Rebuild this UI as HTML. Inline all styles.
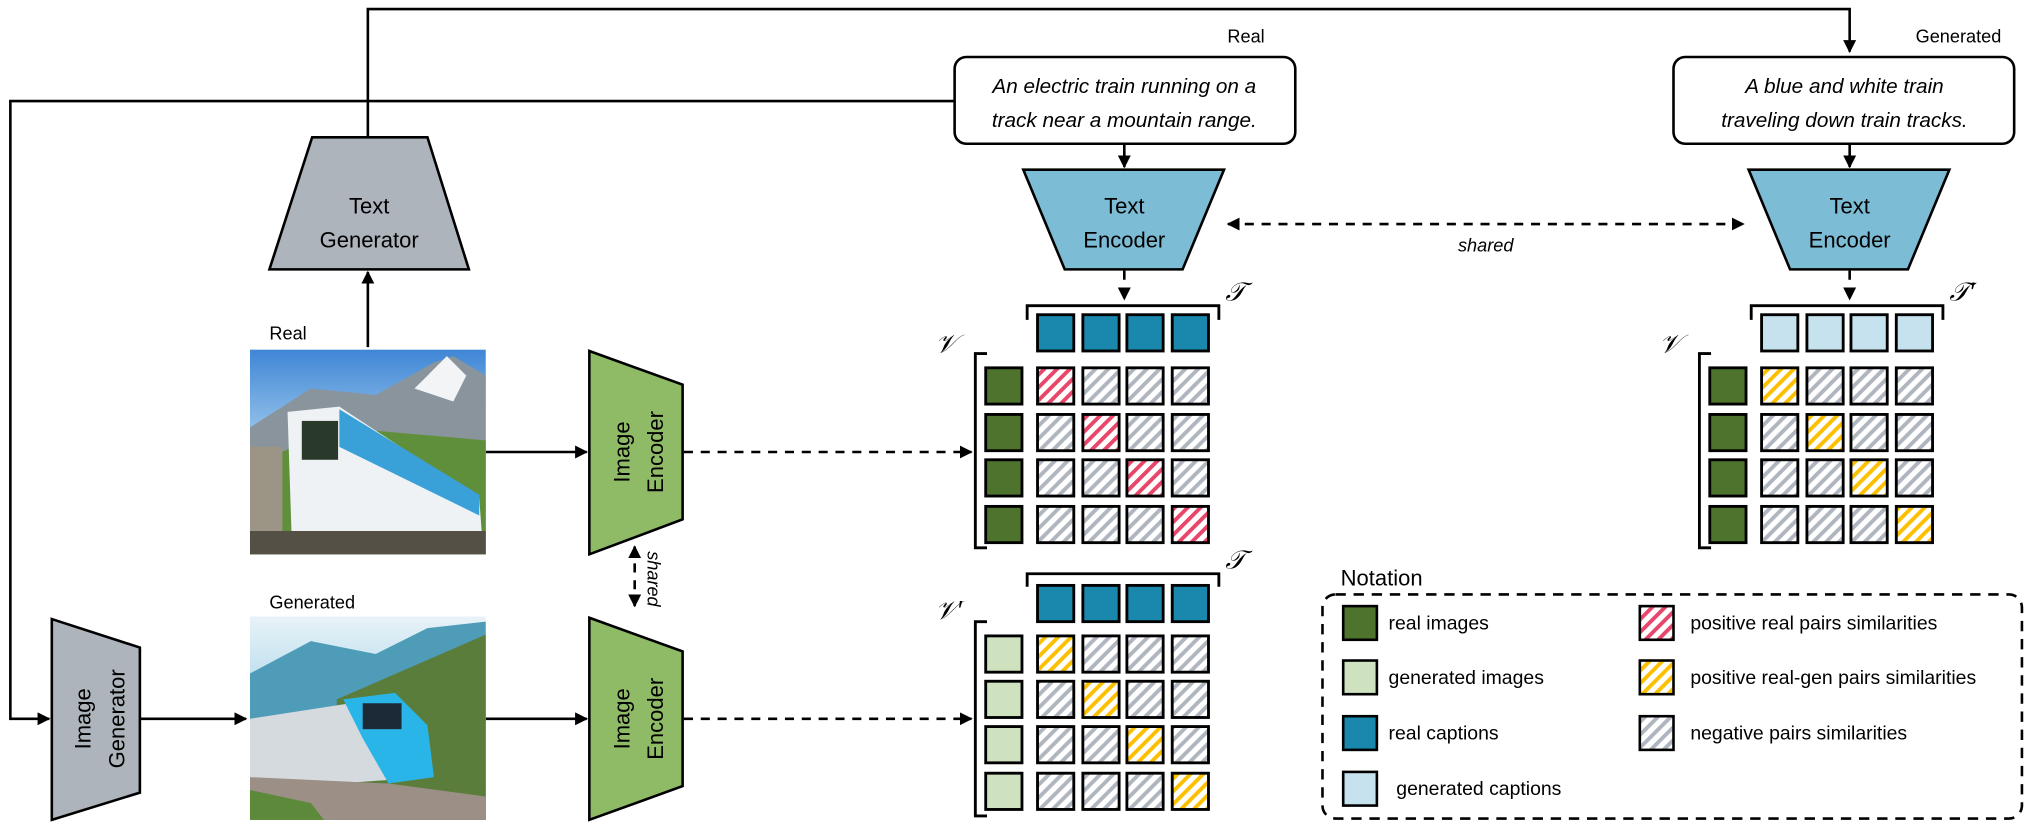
<!DOCTYPE html>
<html><head><meta charset="utf-8"><style>
html,body{margin:0;padding:0;background:#fff;}
svg{display:block;}
text{font-family:"Liberation Sans",sans-serif;}
</style></head><body>
<svg width="2031" height="825" viewBox="0 0 1568 637" preserveAspectRatio="none" xmlns="http://www.w3.org/2000/svg">
<defs>
<marker id="ah" markerWidth="10" markerHeight="10" refX="9" refY="5" orient="auto" markerUnits="userSpaceOnUse"><path d="M0,0 L10,5 L0,10 z" fill="#000"/></marker>
<marker id="ahs" markerWidth="10" markerHeight="10" refX="1" refY="5" orient="auto" markerUnits="userSpaceOnUse"><path d="M10,0 L0,5 L10,10 z" fill="#000"/></marker>
<pattern id="hg" width="7" height="7" patternUnits="userSpaceOnUse" patternTransform="rotate(45)"><rect width="7" height="7" fill="#fff"/><rect width="3" height="7" fill="#b0b6bf"/></pattern>
<pattern id="hr" width="7" height="7" patternUnits="userSpaceOnUse" patternTransform="rotate(45)"><rect width="7" height="7" fill="#fff"/><rect width="3" height="7" fill="#e8466a"/></pattern>
<pattern id="hy" width="7" height="7" patternUnits="userSpaceOnUse" patternTransform="rotate(45)"><rect width="7" height="7" fill="#fff"/><rect width="3" height="7" fill="#fcc000"/></pattern>
<linearGradient id="sky1" x1="0" y1="0" x2="0" y2="1"><stop offset="0" stop-color="#3f86d6"/><stop offset="0.5" stop-color="#a9d0ef"/><stop offset="1" stop-color="#cfe3f2"/></linearGradient>
<linearGradient id="sky2" x1="0" y1="0" x2="0" y2="1"><stop offset="0" stop-color="#e8f3f8"/><stop offset="1" stop-color="#5fb2d8"/></linearGradient>
</defs>

<g fill="none" stroke="#000" stroke-width="2">
<path d="M284,106 V7 H1428 V40" marker-end="url(#ah)"/>
<path d="M737,78 H8 V555 H38" marker-end="url(#ah)"/>
<path d="M284,268 V210" marker-end="url(#ah)"/>
<path d="M108,555 H190" marker-end="url(#ah)"/>
<path d="M375,349 H453" marker-end="url(#ah)"/>
<path d="M375,555 H453" marker-end="url(#ah)"/>
<path d="M868,111 V129" marker-end="url(#ah)"/>
<path d="M1428,111 V129" marker-end="url(#ah)"/>
</g>
<g fill="none" stroke="#000" stroke-width="2" stroke-dasharray="7,6">
<path d="M528,349 H750" marker-end="url(#ah)"/>
<path d="M528,555 H750" marker-end="url(#ah)"/>
<path d="M868,209 V231" marker-end="url(#ah)"/>
<path d="M1428,209 V231" marker-end="url(#ah)"/>
<path d="M948,173 H1346" marker-start="url(#ahs)" marker-end="url(#ah)"/>
<path d="M490,422 V468" marker-start="url(#ahs)" marker-end="url(#ah)"/>
</g>
<text x="1147" y="194" font-size="14" font-style="italic" text-anchor="middle">shared</text>
<text transform="translate(500,447) rotate(90)" font-size="14" font-style="italic" text-anchor="middle">shared</text>

<polygon points="241,106 330,106 362,208 208,208" fill="#adb4bc" stroke="#000" stroke-width="2"/>
<text x="285" y="165" font-size="17" text-anchor="middle">Text</text>
<text x="285" y="191" font-size="17" text-anchor="middle">Generator</text>

<polygon points="40,478 108,500 108,612 40,633" fill="#adb4bc" stroke="#000" stroke-width="2"/>
<text transform="translate(70,555) rotate(-90)" font-size="17" text-anchor="middle">Image</text>
<text transform="translate(96,555) rotate(-90)" font-size="17" text-anchor="middle">Generator</text>

<polygon points="455,271 527,297 527,401 455,428" fill="#8fba66" stroke="#000" stroke-width="2"/>
<text transform="translate(486,349) rotate(-90)" font-size="17" text-anchor="middle">Image</text>
<text transform="translate(512,349) rotate(-90)" font-size="17" text-anchor="middle">Encoder</text>
<polygon points="455,477 527,503 527,607 455,633" fill="#8fba66" stroke="#000" stroke-width="2"/>
<text transform="translate(486,555) rotate(-90)" font-size="17" text-anchor="middle">Image</text>
<text transform="translate(512,555) rotate(-90)" font-size="17" text-anchor="middle">Encoder</text>

<text x="208" y="262" font-size="14">Real</text>
<g>
<rect x="193" y="270" width="182" height="158" fill="url(#sky1)"/>
<polygon points="193,330 240,300 290,305 335,280 350,275 375,290 375,428 193,428" fill="#8a949c"/>
<polygon points="320,300 345,275 360,290 350,310" fill="#f2f4f6"/>
<polygon points="193,360 260,330 375,340 375,428 193,428" fill="#5f8f3a"/>
<rect x="193" y="345" width="25" height="80" fill="#9c9484"/>
<polygon points="222,318 262,314 370,385 372,412 225,410" fill="#eef2f4"/>
<polygon points="262,316 370,382 370,398 262,345" fill="#3aa0d8"/>
<rect x="233" y="325" width="28" height="30" fill="#2a3a2a"/>
<rect x="193" y="410" width="182" height="18" fill="#555046"/>
</g>

<text x="208" y="470" font-size="14">Generated</text>
<g>
<rect x="193" y="476" width="182" height="157" fill="url(#sky2)"/>
<polygon points="193,520 240,495 290,505 330,485 375,480 375,633 193,633" fill="#4e9cb8"/>
<polygon points="260,540 375,490 375,633 260,633" fill="#5b7d3c"/>
<polygon points="193,555 290,540 330,600 193,610" fill="#d5dadf"/>
<polygon points="265,540 305,535 330,560 335,600 300,605 280,570" fill="#2ab5e8"/>
<rect x="280" y="543" width="30" height="20" fill="#1c2a38"/>
<polygon points="193,600 300,605 375,615 375,633 193,633" fill="#9b8f86"/>
<polygon points="193,610 240,620 250,633 193,633" fill="#5c8a3a"/>
</g>

<rect x="737" y="44" width="263" height="67" rx="9" fill="#fff" stroke="#000" stroke-width="2"/>
<text x="868" y="72" font-size="16" font-style="italic" text-anchor="middle">An electric train running on a</text>
<text x="868" y="98" font-size="16" font-style="italic" text-anchor="middle">track near a mountain range.</text>
<text x="962" y="33" font-size="14" text-anchor="middle">Real</text>
<rect x="1292" y="44" width="263" height="67" rx="9" fill="#fff" stroke="#000" stroke-width="2"/>
<text x="1424" y="72" font-size="16" font-style="italic" text-anchor="middle">A blue and white train</text>
<text x="1424" y="98" font-size="16" font-style="italic" text-anchor="middle">traveling down train tracks.</text>
<text x="1512" y="33" font-size="14" text-anchor="middle">Generated</text>

<polygon points="790,131 945,131 913,208 822,208" fill="#7dbcd5" stroke="#000" stroke-width="2"/>
<text x="868" y="165" font-size="17" text-anchor="middle">Text</text>
<text x="868" y="191" font-size="17" text-anchor="middle">Encoder</text>
<polygon points="1350,131 1505,131 1473,208 1382,208" fill="#7dbcd5" stroke="#000" stroke-width="2"/>
<text x="1428" y="165" font-size="17" text-anchor="middle">Text</text>
<text x="1428" y="191" font-size="17" text-anchor="middle">Encoder</text>

<g stroke="#000" stroke-width="2.2">
<path d="M793,247 V236 H941 V247" fill="none"/>
<path d="M762,273 H753 V423 H762" fill="none"/>
<rect x="801" y="243" width="28" height="28" fill="#1a87ad"/><rect x="836" y="243" width="28" height="28" fill="#1a87ad"/><rect x="870" y="243" width="28" height="28" fill="#1a87ad"/><rect x="905" y="243" width="28" height="28" fill="#1a87ad"/>
<rect x="761" y="284" width="28" height="28" fill="#4e732d"/><rect x="761" y="320" width="28" height="28" fill="#4e732d"/><rect x="761" y="355" width="28" height="28" fill="#4e732d"/><rect x="761" y="391" width="28" height="28" fill="#4e732d"/>
<rect x="801" y="284" width="28" height="28" fill="url(#hr)"/><rect x="836" y="284" width="28" height="28" fill="url(#hg)"/><rect x="870" y="284" width="28" height="28" fill="url(#hg)"/><rect x="905" y="284" width="28" height="28" fill="url(#hg)"/>
<rect x="801" y="320" width="28" height="28" fill="url(#hg)"/><rect x="836" y="320" width="28" height="28" fill="url(#hr)"/><rect x="870" y="320" width="28" height="28" fill="url(#hg)"/><rect x="905" y="320" width="28" height="28" fill="url(#hg)"/>
<rect x="801" y="355" width="28" height="28" fill="url(#hg)"/><rect x="836" y="355" width="28" height="28" fill="url(#hg)"/><rect x="870" y="355" width="28" height="28" fill="url(#hr)"/><rect x="905" y="355" width="28" height="28" fill="url(#hg)"/>
<rect x="801" y="391" width="28" height="28" fill="url(#hg)"/><rect x="836" y="391" width="28" height="28" fill="url(#hg)"/><rect x="870" y="391" width="28" height="28" fill="url(#hg)"/><rect x="905" y="391" width="28" height="28" fill="url(#hr)"/>
</g>
<text x="946" y="232" font-size="20" font-style="italic" font-family="Liberation Serif">𝒯</text>
<text x="722" y="272" font-size="20" font-style="italic" font-family="Liberation Serif">𝒱</text>

<g stroke="#000" stroke-width="2.2">
<path d="M793,453 V443 H941 V453" fill="none"/>
<path d="M762,480 H753 V630 H762" fill="none"/>
<rect x="801" y="452" width="28" height="28" fill="#1a87ad"/><rect x="836" y="452" width="28" height="28" fill="#1a87ad"/><rect x="870" y="452" width="28" height="28" fill="#1a87ad"/><rect x="905" y="452" width="28" height="28" fill="#1a87ad"/>
<rect x="761" y="491" width="28" height="28" fill="#cfe2bf"/><rect x="761" y="526" width="28" height="28" fill="#cfe2bf"/><rect x="761" y="561" width="28" height="28" fill="#cfe2bf"/><rect x="761" y="597" width="28" height="28" fill="#cfe2bf"/>
<rect x="801" y="491" width="28" height="28" fill="url(#hy)"/><rect x="836" y="491" width="28" height="28" fill="url(#hg)"/><rect x="870" y="491" width="28" height="28" fill="url(#hg)"/><rect x="905" y="491" width="28" height="28" fill="url(#hg)"/>
<rect x="801" y="526" width="28" height="28" fill="url(#hg)"/><rect x="836" y="526" width="28" height="28" fill="url(#hy)"/><rect x="870" y="526" width="28" height="28" fill="url(#hg)"/><rect x="905" y="526" width="28" height="28" fill="url(#hg)"/>
<rect x="801" y="561" width="28" height="28" fill="url(#hg)"/><rect x="836" y="561" width="28" height="28" fill="url(#hg)"/><rect x="870" y="561" width="28" height="28" fill="url(#hy)"/><rect x="905" y="561" width="28" height="28" fill="url(#hg)"/>
<rect x="801" y="597" width="28" height="28" fill="url(#hg)"/><rect x="836" y="597" width="28" height="28" fill="url(#hg)"/><rect x="870" y="597" width="28" height="28" fill="url(#hg)"/><rect x="905" y="597" width="28" height="28" fill="url(#hy)"/>
</g>
<text x="946" y="439" font-size="20" font-style="italic" font-family="Liberation Serif">𝒯</text>
<text x="722" y="478" font-size="20" font-style="italic" font-family="Liberation Serif">𝒱′</text>

<g transform="translate(559,0)" stroke="#000" stroke-width="2.2">
<path d="M793,247 V236 H941 V247" fill="none"/>
<path d="M762,273 H753 V423 H762" fill="none"/>
<rect x="801" y="243" width="28" height="28" fill="#c6e2ee"/><rect x="836" y="243" width="28" height="28" fill="#c6e2ee"/><rect x="870" y="243" width="28" height="28" fill="#c6e2ee"/><rect x="905" y="243" width="28" height="28" fill="#c6e2ee"/>
<rect x="761" y="284" width="28" height="28" fill="#4e732d"/><rect x="761" y="320" width="28" height="28" fill="#4e732d"/><rect x="761" y="355" width="28" height="28" fill="#4e732d"/><rect x="761" y="391" width="28" height="28" fill="#4e732d"/>
<rect x="801" y="284" width="28" height="28" fill="url(#hy)"/><rect x="836" y="284" width="28" height="28" fill="url(#hg)"/><rect x="870" y="284" width="28" height="28" fill="url(#hg)"/><rect x="905" y="284" width="28" height="28" fill="url(#hg)"/>
<rect x="801" y="320" width="28" height="28" fill="url(#hg)"/><rect x="836" y="320" width="28" height="28" fill="url(#hy)"/><rect x="870" y="320" width="28" height="28" fill="url(#hg)"/><rect x="905" y="320" width="28" height="28" fill="url(#hg)"/>
<rect x="801" y="355" width="28" height="28" fill="url(#hg)"/><rect x="836" y="355" width="28" height="28" fill="url(#hg)"/><rect x="870" y="355" width="28" height="28" fill="url(#hy)"/><rect x="905" y="355" width="28" height="28" fill="url(#hg)"/>
<rect x="801" y="391" width="28" height="28" fill="url(#hg)"/><rect x="836" y="391" width="28" height="28" fill="url(#hg)"/><rect x="870" y="391" width="28" height="28" fill="url(#hg)"/><rect x="905" y="391" width="28" height="28" fill="url(#hy)"/>
</g>
<text x="1505" y="232" font-size="20" font-style="italic" font-family="Liberation Serif">𝒯′</text>
<text x="1281" y="272" font-size="20" font-style="italic" font-family="Liberation Serif">𝒱</text>

<text x="1035" y="452" font-size="17">Notation</text>
<rect x="1021" y="459" width="540" height="173" rx="10" fill="none" stroke="#000" stroke-width="2" stroke-dasharray="8,6"/>
<g stroke="#000" stroke-width="2">
<rect x="1037" y="468" width="26" height="26" fill="#4e732d"/>
<rect x="1037" y="510" width="26" height="26" fill="#cfe2bf"/>
<rect x="1037" y="553" width="26" height="26" fill="#1a87ad"/>
<rect x="1037" y="596" width="26" height="26" fill="#c6e2ee"/>
<rect x="1266" y="468" width="26" height="26" fill="url(#hr)"/>
<rect x="1266" y="510" width="26" height="26" fill="url(#hy)"/>
<rect x="1266" y="553" width="26" height="26" fill="url(#hg)"/>
</g>
<g font-size="15">
<text x="1072" y="486">real images</text>
<text x="1072" y="528">generated images</text>
<text x="1072" y="571">real captions</text>
<text x="1078" y="614">generated captions</text>
<text x="1305" y="486">positive real pairs similarities</text>
<text x="1305" y="528">positive real-gen pairs similarities</text>
<text x="1305" y="571">negative pairs similarities</text>
</g>
</svg>
</body></html>
